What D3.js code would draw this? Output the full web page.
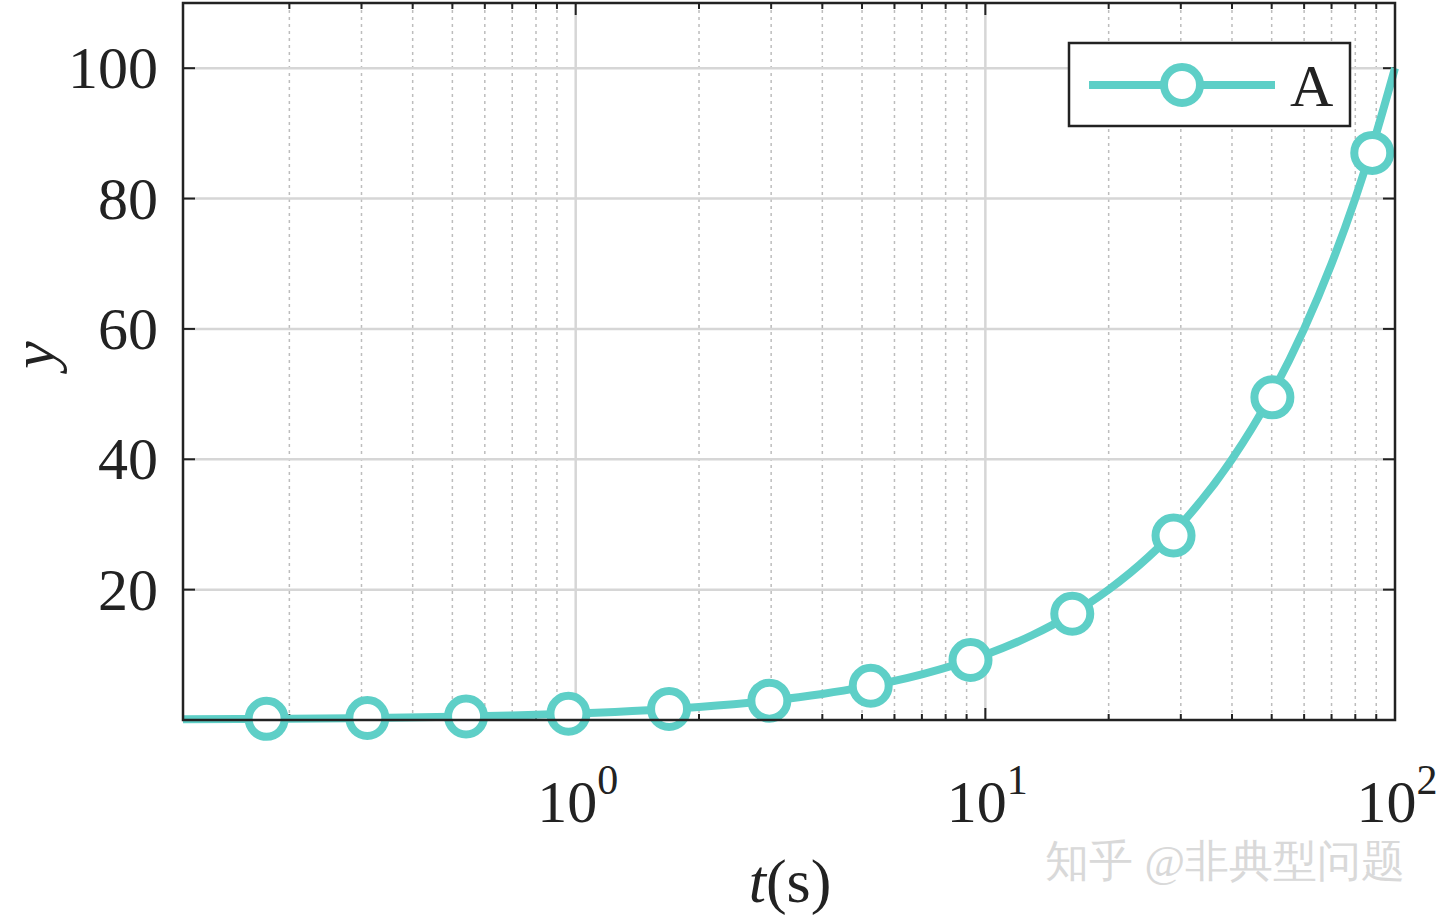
<!DOCTYPE html>
<html lang="en">
<head>
<meta charset="UTF-8">
<script src="https://d3js.org/d3.v7.min.js"></script>
<style>
  body { margin: 0; background: #fff; }
  text { font-family: "Liberation Serif", "Times New Roman", serif; fill: #222; }
</style>
</head>
<body>
<svg width="1440" height="920"></svg>
<script>
// data
const curveT = [0.11, 0.15, 0.2, 0.3, 0.5, 0.7, 1, 1.5, 2, 3, 4, 5, 7, 10, 13, 16, 20, 25, 30, 40, 50, 60, 70, 80, 90, 100];
const curveY = [0.11, 0.15, 0.2, 0.3, 0.5, 0.7, 1, 1.5, 2, 3, 4, 5, 7, 10, 13, 16, 20, 25, 30, 40, 50, 60, 70, 80, 90, 100];
const markT = [0.176, 0.31, 0.54, 0.96, 1.69, 2.97, 5.25, 9.2, 16.3, 28.8, 50.2, 88];
const markY = [0.176, 0.31, 0.54, 0.96, 1.69, 2.97, 5.25, 9.2, 16.3, 28.3, 49.5, 87];
const yTicks = [20, 40, 60, 80, 100];
const xMajor = [1, 10, 100];
const seriesName = "A";
const color = "#5ecfc7";

const svg = d3.select("svg");
const L = 183, R = 1395, T = 3, B = 720;
const x = d3.scaleLog().domain([0.11, 100]).range([L, R]);
const y = d3.scaleLinear().domain([0, 110]).range([B, T]);

// minor grid
const minor = [];
[0.1, 1, 10].forEach(d => { for (let k = 2; k <= 9; k++) { const v = d * k; if (v > 0.11 && v < 100) minor.push(v); } });
svg.append("g").selectAll("line").data(minor).join("line")
  .attr("x1", d => x(d)).attr("x2", d => x(d)).attr("y1", T).attr("y2", B)
  .attr("stroke", "#bdbdbd").attr("stroke-width", 1.5).attr("stroke-dasharray", "3,4");
svg.append("g").selectAll("line").data(xMajor.slice(0, 2)).join("line")
  .attr("x1", d => x(d)).attr("x2", d => x(d)).attr("y1", T).attr("y2", B)
  .attr("stroke", "#d6d6d6").attr("stroke-width", 2.5);
svg.append("g").selectAll("line").data(yTicks).join("line")
  .attr("x1", L).attr("x2", R).attr("y1", d => y(d)).attr("y2", d => y(d))
  .attr("stroke", "#d6d6d6").attr("stroke-width", 2.5);

// ticks (inward, both sides)
const tk = svg.append("g").attr("stroke", "#222").attr("stroke-width", 2);
yTicks.forEach(v => {
  tk.append("line").attr("x1", L).attr("x2", L + 12).attr("y1", y(v)).attr("y2", y(v));
  tk.append("line").attr("x1", R).attr("x2", R - 12).attr("y1", y(v)).attr("y2", y(v));
});
xMajor.forEach(v => {
  tk.append("line").attr("x1", x(v)).attr("x2", x(v)).attr("y1", B).attr("y2", B - 12);
  tk.append("line").attr("x1", x(v)).attr("x2", x(v)).attr("y1", T).attr("y2", T + 12);
});
minor.forEach(v => {
  tk.append("line").attr("x1", x(v)).attr("x2", x(v)).attr("y1", B).attr("y2", B - 6);
  tk.append("line").attr("x1", x(v)).attr("x2", x(v)).attr("y1", T).attr("y2", T + 6);
});

// curve and markers
const pts = curveT.map((t, i) => [t, curveY[i]]);
svg.append("path").datum(pts)
  .attr("d", d3.line().x(d => x(d[0])).y(d => y(d[1])).curve(d3.curveMonotoneX))
  .attr("fill", "none").attr("stroke", color).attr("stroke-width", 8);
svg.append("g").selectAll("circle").data(markT.map((t, i) => [t, markY[i]])).join("circle")
  .attr("cx", d => x(d[0])).attr("cy", d => y(d[1])).attr("r", 18)
  .attr("fill", "#fff").attr("stroke", color).attr("stroke-width", 8);

// box
svg.append("rect").attr("x", L).attr("y", T).attr("width", R - L).attr("height", B - T)
  .attr("fill", "none").attr("stroke", "#222").attr("stroke-width", 2.5);

// tick labels
svg.append("g").selectAll("text").data(yTicks).join("text")
  .attr("x", 158).attr("y", d => y(d) + 20).attr("text-anchor", "end")
  .attr("font-size", 60).text(d => d);
xMajor.forEach((v, i) => {
  const t = svg.append("text").attr("x", x(v) + 2).attr("y", 822).attr("text-anchor", "middle").attr("font-size", 60);
  t.append("tspan").text("10");
  t.append("tspan").attr("dy", -28).attr("font-size", 42).text(String(i));
});

// axis titles
svg.append("text").attr("transform", "translate(54,355) rotate(-90)").attr("text-anchor", "middle")
  .attr("font-size", 62).attr("font-style", "italic").text("y");
const xt = svg.append("text").attr("x", 790).attr("y", 902).attr("text-anchor", "middle").attr("font-size", 62);
xt.append("tspan").attr("font-style", "italic").text("t");
xt.append("tspan").text("(s)");

// legend
svg.append("rect").attr("x", 1069).attr("y", 43).attr("width", 281).attr("height", 83)
  .attr("fill", "#fff").attr("stroke", "#222").attr("stroke-width", 2.5);
svg.append("line").attr("x1", 1089).attr("x2", 1275).attr("y1", 85).attr("y2", 85)
  .attr("stroke", color).attr("stroke-width", 8);
svg.append("circle").attr("cx", 1182).attr("cy", 85).attr("r", 18)
  .attr("fill", "#fff").attr("stroke", color).attr("stroke-width", 8);
svg.append("text").attr("x", 1290).attr("y", 106).attr("font-size", 60).text(seriesName);

// watermark
svg.append("text").attr("x", 1405).attr("y", 876).attr("text-anchor", "end")
  .attr("font-family", "Noto Sans CJK SC").attr("font-size", 44)
  .style("fill", "#d9d9d9").text("知乎 @非典型问题");
</script>
</body>
</html>
